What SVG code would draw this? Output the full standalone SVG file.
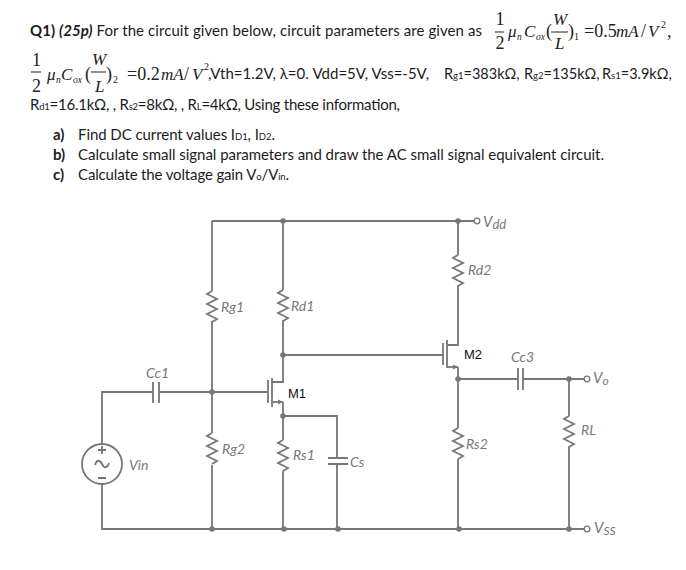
<svg xmlns="http://www.w3.org/2000/svg" width="686" height="570" viewBox="0 0 686 570">
<style>
.t{font-family:"Lato","Liberation Sans",sans-serif;font-size:15px;fill:#1c1c1c}
.s{font-size:14.500px}
.b{font-weight:700}
.bi{font-weight:700;font-style:italic}
.m{font-family:"Liberation Serif",serif;font-size:17px;font-style:italic;fill:#222}
.mr{font-family:"Liberation Serif",serif;font-size:18px;fill:#222}
.ms{font-family:"Liberation Serif",serif;font-size:9.500px;font-style:italic;fill:#222}
.msr{font-family:"Liberation Serif",serif;font-size:10px;fill:#222}
.bar{stroke:#222;stroke-width:1;fill:none}
.w{stroke:#777;stroke-width:1.8;fill:none}
.d{fill:#777}
.o{fill:#fff;stroke:#777;stroke-width:1.3}
.l{font-family:"Lato","Liberation Sans",sans-serif;font-size:14px;font-style:italic;fill:#777}
.k{font-family:"Liberation Sans",sans-serif;font-size:13px;fill:#111}
</style>
<defs>
<path id="zig" d="M0 0L-5 3L5 8L-5 13L5 18L-5 23L5 28L0 31" fill="none" stroke="#777" stroke-width="1.8"/>
<marker id="arr" markerUnits="userSpaceOnUse" markerWidth="6" markerHeight="6" refX="5" refY="3" orient="auto"><path d="M0 0.500L5 3L0 5.500Z" fill="#777"/></marker>
</defs>
<g id="question">
<text class="t" y="36" x="30" textLength="452"><tspan class="b">Q1)</tspan> <tspan class="bi">(25p)</tspan> For the circuit given below, circuit parameters are given as</text>
<text class="m" x="508" y="37">μ</text><text class="ms" x="517" y="40">n</text><text class="m" x="524" y="37">C</text><text class="ms" x="536" y="40">ox</text><text class="mr" x="546" y="37">(</text><text class="mr" x="568" y="37">)</text><text class="msr" x="574" y="40">1</text><text class="mr" x="584" y="37">=0.5</text><text class="m" x="616" y="37">mA</text><text class="mr" x="641" y="37">/</text><text class="m" x="648" y="37">V</text><text class="msr" x="661" y="28">2</text><text class="mr" x="667" y="37">,</text>
<text class="mr" x="495.500" y="25">1</text><path class="bar" d="M495 32H504"/><text class="mr" x="495.500" y="49">2</text>
<text class="m" x="553" y="25">W</text><path class="bar" d="M551 32H568"/><text class="m" x="555" y="49">L</text>
<text class="mr" x="32" y="66">1</text><path class="bar" d="M31 72H41"/><text class="mr" x="32" y="92">2</text>
<text class="m" x="47" y="80">μ</text><text class="ms" x="56" y="83">n</text><text class="m" x="61" y="80">C</text><text class="ms" x="73" y="83">ox</text><text class="mr" x="85" y="80">(</text>
<text class="m" x="92" y="65">W</text><path class="bar" d="M91 72H106"/><text class="m" x="95" y="92">L</text>
<text class="mr" x="106" y="80">)</text><text class="msr" x="113" y="83">2</text>
<text class="mr" x="127" y="80">=0.2</text><text class="m" x="161" y="80">mA</text><text class="mr" x="184" y="80">/</text><text class="m" x="192" y="80">V</text><text class="msr" x="204" y="70">2</text>
<text class="t" x="208" y="79">,Vth=1.2V, λ=0. Vdd=5V, Vss=-5V,</text>
<text class="t s" x="444" y="79">R<tspan font-size="9.500">g1</tspan>=383kΩ,</text>
<text class="t s" x="524" y="79">R<tspan font-size="9.500">g2</tspan>=135kΩ,</text>
<text class="t s" x="602" y="79">R<tspan font-size="9.500">s1</tspan>=3.9kΩ,</text>
<text class="t" x="30" y="110" textLength="370">R<tspan font-size="9.500">d1</tspan>=16.1kΩ, , R<tspan font-size="9.500">s2</tspan>=8kΩ, , R<tspan font-size="9.500">L</tspan>=4kΩ, Using these information,</text>
<text class="t b" x="53" y="140">a)</text><text class="t" x="78" y="140" textLength="197">Find DC current values I<tspan font-size="9.500">D1</tspan>, I<tspan font-size="9.500">D2</tspan>.</text>
<text class="t b" x="53" y="160">b)</text><text class="t" x="78" y="160" textLength="526">Calculate small signal parameters and draw the AC small signal equivalent circuit.</text>
<text class="t b" x="53" y="180">c)</text><text class="t" x="78" y="180" textLength="211">Calculate the voltage gain V<tspan font-size="9.500">o</tspan>/V<tspan font-size="9.500">in</tspan>.</text>
</g>
<g id="connectors">
<path class="w" d="M212 221H474M212 221V291M212 321V433M212 465V529"/>
<path class="w" d="M283 221V290M283 320V382H272M283 402V440M283 471V529"/>
<path class="w" d="M283 355H443M458 221V255M458 285V345H447M458 367V428M458 459V529"/>
<path class="w" d="M102 444V392H153M159 392H267M283 416H337V458M337 464V529"/>
<path class="w" d="M102 484V529H584M458 379H518M523 379H584M569 379V416M569 446V529"/>
<path class="w" d="M272 402H283" marker-end="url(#arr)"/>
<path class="w" d="M447 367H458" marker-end="url(#arr)"/>
<g class="d"><circle cx="283" cy="221" r="2.800"/><circle cx="458" cy="221" r="2.800"/><circle cx="283" cy="355" r="2.800"/><circle cx="212" cy="392" r="2.800"/><circle cx="283" cy="416" r="2.800"/><circle cx="458" cy="379" r="2.800"/><circle cx="569" cy="379" r="2.800"/><circle cx="212" cy="529" r="2.800"/><circle cx="284" cy="529" r="2.800"/><circle cx="338" cy="529" r="2.800"/><circle cx="459" cy="529" r="2.800"/><circle cx="569" cy="529" r="2.800"/></g>
</g>
<g id="Vdd"><circle class="o" cx="477" cy="221" r="2.800"/><text class="l" x="483" y="227" style="font-size:15px">V<tspan font-size="13" dy="2">dd</tspan></text></g>
<g id="Rg1"><use href="#zig" x="212" y="291"/><text class="l" x="221" y="312">Rg1</text></g>
<g id="Rd1"><use href="#zig" x="283" y="290"/><text class="l" x="291" y="311">Rd1</text></g>
<g id="Rd2"><use href="#zig" x="458" y="255"/><text class="l" x="468" y="275">Rd2</text></g>
<g id="M1"><path class="w" d="M268 380V403M272 378V407"/><text class="k" x="288" y="398">M1</text></g>
<g id="M2"><path class="w" d="M443 343V365M447 340V368"/><text class="k" x="464" y="359">M2</text></g>
<g id="Cc1"><path class="w" d="M153 382V403M159 382V403"/><text class="l" x="146" y="378">Cc1</text></g>
<g id="Cc3"><path class="w" d="M518 368V390M523 368V390"/><text class="l" x="511" y="362">Cc3</text></g>
<g id="Rg2"><use href="#zig" x="212" y="433"/><text class="l" x="222" y="454">Rg2</text></g>
<g id="Rs1"><use href="#zig" x="283" y="440"/><text class="l" x="293" y="460">Rs1</text></g>
<g id="Cs"><path class="w" d="M328 458H348M328 464H348"/><text class="l" x="350" y="467">Cs</text></g>
<g id="Rs2"><use href="#zig" x="458" y="428"/><text class="l" x="466" y="449">Rs2</text></g>
<g id="RL"><use href="#zig" x="569" y="416"/><text class="l" x="581" y="435">RL</text></g>
<g id="Vin"><circle class="w" cx="102" cy="464" r="20"/><path class="w" d="M98 450H106M102 446V454M98 478H106"/><path class="w" d="M95 465C97 459 100 460 102 464C104 468 107 469 109 463"/><text class="l" x="129" y="470">Vin</text></g>
<g id="Vo"><circle class="o" cx="587" cy="379" r="2.800"/><text class="l" x="593" y="383" style="font-size:15px">V<tspan font-size="12" dy="2">o</tspan></text></g>
<g id="Vss"><circle class="o" cx="587" cy="529" r="2.800"/><text class="l" x="594" y="533" style="font-size:15px">V<tspan font-size="12" dy="2">SS</tspan></text></g>
</svg>
